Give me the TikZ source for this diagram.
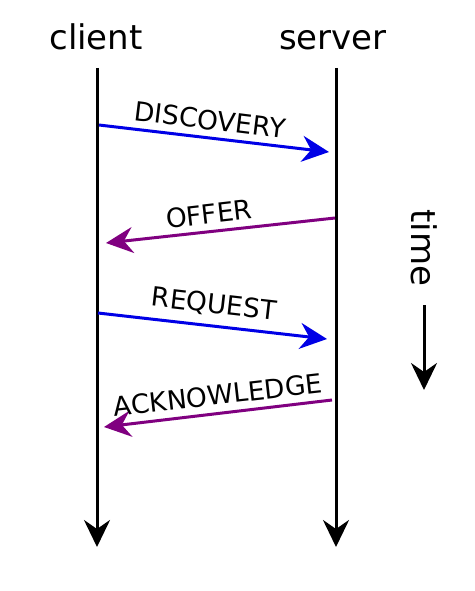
\documentclass[tikz,border=0pt]{standalone}
\usepackage{fontspec}
\setmainfont{DejaVu Sans}
\usetikzlibrary{arrows.meta}
\definecolor{msgblue}{RGB}{0,0,230}
\definecolor{msgpurple}{RGB}{128,0,128}
\begin{document}
\begin{tikzpicture}[x=1pt,y=-1pt,
  tip/.style={-{Stealth[length=27pt,width=26pt,inset=9pt]}},
  life/.style={tip,line width=3pt,black},
  msgto/.style={tip,line width=3pt,msgblue},
  msgback/.style={tip,line width=3pt,msgpurple},
  actor/.style={font=\fontsize{34}{40}\selectfont,inner sep=0pt},
  lbl/.style={font=\fontsize{26.5}{30}\selectfont,inner sep=0pt}]
\useasboundingbox[fill=white] (0,0) rectangle (474,591);
% actors
\node[actor,anchor=base] (client) at (96,50) {client};
\node[actor,anchor=base] (server) at (333,50) {server};
% lifelines
\coordinate (ctop) at (97,68);
\coordinate (cbot) at (97,547);
\coordinate (stop) at (336,68);
\coordinate (sbot) at (336,547);
\draw[life] (ctop) -- (cbot);
\draw[life] (stop) -- (sbot);
% messages
\coordinate (d1) at (99,125);  \coordinate (d2) at (329,152);
\coordinate (o1) at (335,218); \coordinate (o2) at (106,243);
\coordinate (r1) at (98,313);  \coordinate (r2) at (327,339);
\coordinate (a1) at (332,400); \coordinate (a2) at (104,427);
\draw[msgto] (d1) -- (d2);
\draw[msgback] (o1) -- (o2);
\draw[msgto] (r1) -- (r2);
\draw[msgback] (a1) -- (a2);
\node[lbl,rotate=-7] (ldisc) at (210,120) {DISCOVERY};
\node[lbl,rotate=6.5] (loffer) at (209,214) {OFFER};
\node[lbl,rotate=-6.5] (lreq) at (214,305) {REQUEST};
\node[lbl,rotate=6.5] (lack) at (218,395) {ACKNOWLEDGE};
% time
\node[actor,rotate=-90] (time) at (424,248) {time};
\coordinate (t1) at (424,305);
\coordinate (t2) at (424,390);
\draw[life] (t1) -- (t2);
\end{tikzpicture}
\end{document}
